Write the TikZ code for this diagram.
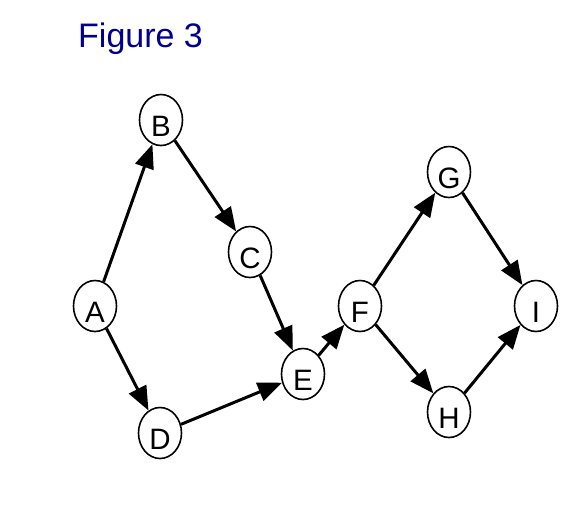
\documentclass[tikz,border=0pt]{standalone}
\usepackage{fontspec}
\setmainfont{Liberation Sans}
\usetikzlibrary{shapes.geometric,arrows.meta}
\definecolor{titleblue}{RGB}{0,0,140}
\newcommand\vlbl[1]{\raisebox{-6pt}[21pt][0pt]{#1}}
\begin{document}
\begin{tikzpicture}[x=1pt,y=-1pt,
  vtx/.style={ellipse,draw,line width=1.6pt,fill=white,minimum width=43pt,minimum height=51pt,inner sep=0pt,font=\fontsize{29.5}{29.5}\selectfont},
  conn/.style={line width=3pt,-{Triangle[length=24pt,width=19pt]}}]
\useasboundingbox (0,0) rectangle (572,504);
\node[anchor=base west,text=titleblue,font=\fontsize{34}{34}\selectfont,inner sep=0pt] (title) at (78,47) {Figure 3};
\node[vtx] (A) at (95,306) {\vlbl{A}};
\node[vtx] (B) at (161,120) {\vlbl{B}};
\node[vtx] (C) at (250,252) {\vlbl{C}};
\node[vtx] (D) at (160,433) {\vlbl{D}};
\node[vtx] (E) at (303,374) {\vlbl{E}};
\node[vtx] (F) at (360,306) {\vlbl{F}};
\node[vtx] (G) at (449,172) {\vlbl{G}};
\node[vtx] (H) at (449,412) {\vlbl{H}};
\node[vtx] (I) at (536,306) {\vlbl{I}};
\draw[conn] (A) -- (B);
\draw[conn] (B) -- (C);
\draw[conn] (C) -- (E);
\draw[conn] (A) -- (D);
\draw[conn] (D) -- (E);
\draw[conn] (E) -- (F);
\draw[conn] (F) -- (G);
\draw[conn] (F) -- (H);
\draw[conn] (G) -- (I);
\draw[conn] (H) -- (I);
\end{tikzpicture}
\end{document}
